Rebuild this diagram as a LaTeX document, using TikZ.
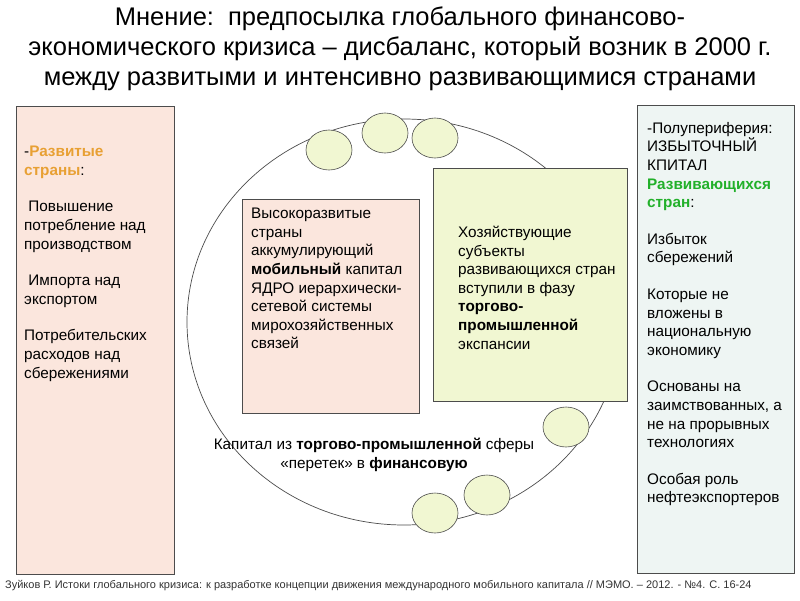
\documentclass[tikz,border=0pt]{standalone}
\usepackage{fontspec}
\setmainfont{Liberation Sans}
\definecolor{pinkf}{HTML}{FBE6DD}
\definecolor{greenf}{HTML}{F1F7D2}
\definecolor{bluef}{HTML}{EEF5F3}
\definecolor{orangeT}{HTML}{E8A033}
\definecolor{greenT}{HTML}{22B02A}
\tikzset{
 panel/.style={draw=black!70,line width=0.7pt,anchor=north west,inner sep=0pt},
 body/.style={anchor=north west,align=left,inner sep=0pt,font=\fontsize{15.3}{18.6}\selectfont},
 bead/.style={draw=black!70,fill=greenf,line width=0.6pt,ellipse,minimum width=46pt,minimum height=40pt,inner sep=0pt},
}
\usetikzlibrary{shapes.geometric}
\begin{document}
\begin{tikzpicture}[x=1pt,y=-1pt]
\useasboundingbox (0,0) rectangle (800,600);
\fill[white] (0,0) rectangle (800,600);
\node[font=\fontsize{25.5}{30}\selectfont,align=center] (title) at (400,49) {Мнение:\ \ предпосылка глобального финансово-\\экономического кризиса -- дисбаланс, который возник в 2000 г.\\между развитыми и интенсивно развивающимися странами};
% big circle
\draw[black!70,line width=0.7pt] (404,322) ellipse (217pt and 203pt);
\node[bead] (b1) at (329,150) {};
\node[bead] (b2) at (385,133) {};
\node[bead] (b3) at (435,138) {};
\node[bead] (b4) at (566,427) {};
\node[bead] (b5) at (487,495) {};
\node[bead] (b6) at (435,513) {};
% side panels
\node[panel,fill=pinkf,minimum width=158pt,minimum height=468pt] (left) at (16,106) {};
\node[panel,fill=bluef,minimum width=157pt,minimum height=468pt] (right) at (637,105) {};
\node[panel,fill=pinkf,minimum width=177pt,minimum height=214pt] (mid) at (242,199) {};
\node[panel,fill=greenf,minimum width=194pt,minimum height=233pt] (grn) at (433,168) {};
\node[body] (lt) at (24,146) {-\textcolor{orangeT}{\bfseries Развитые}\\\textcolor{orangeT}{\bfseries страны}:\\[18pt]
\ Повышение\\потребление над\\производством\\[18pt]
\ Импорта над\\экспортом\\[18pt]
Потребительских\\расходов над\\сбережениями};
\node[body] (mt) at (251,208) {Высокоразвитые\\страны\\аккумулирующий\\\textbf{мобильный} капитал\\ЯДРО иерархически-\\сетевой системы\\мирохозяйственных\\связей};
\node[body] (gt) at (458,226) {Хозяйствующие\\субъекты\\развивающихся стран\\вступили в фазу\\\textbf{торгово-}\\\textbf{промышленной}\\экспансии};
\node[body] (rt) at (647,122) {-Полупериферия:\\ИЗБЫТОЧНЫЙ\\КПИТАЛ\\\textcolor{greenT}{\bfseries Развивающихся}\\\textcolor{greenT}{\bfseries стран}:\\[18pt]
Избыток\\сбережений\\[18pt]
Которые не\\вложены в\\национальную\\экономику\\[18pt]
Основаны на\\заимствованных, а\\не на прорывных\\технологиях\\[18pt]
Особая роль\\нефтеэкспортеров};
\node[align=center,font=\fontsize{15.3}{19}\selectfont] (cap) at (374,455) {Капитал из \textbf{торгово-промышленной} сферы\\«перетек» в \textbf{финансовую}};
\node[anchor=west,font=\fontsize{11}{12}\selectfont,inner sep=0pt,black!80] (foot) at (5,586) {Зуйков Р. Истоки глобального кризиса: к разработке концепции движения  международного мобильного капитала // МЭМО. -- 2012. - №4. С. 16-24};
\end{tikzpicture}
\end{document}
